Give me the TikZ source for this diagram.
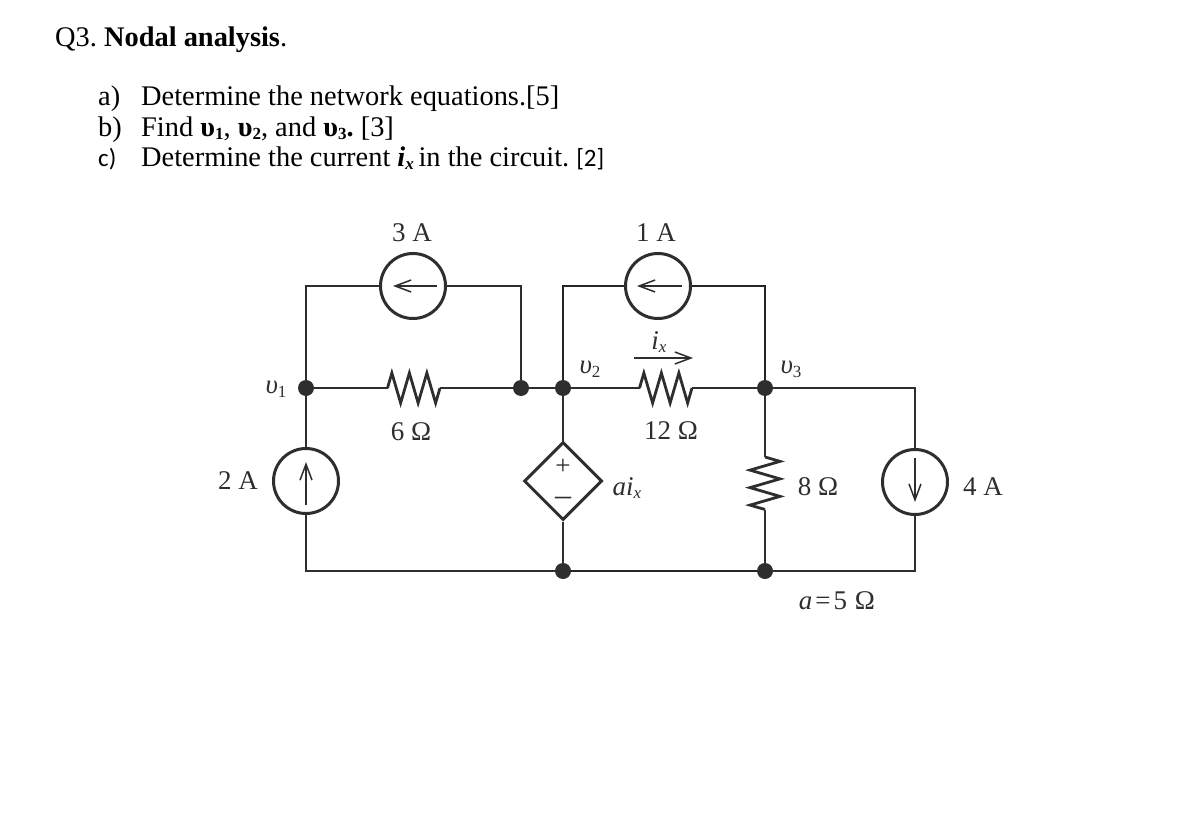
\documentclass[tikz,border=0pt]{standalone}
\usepackage{fontspec}
\setmainfont{Liberation Serif}
\newfontfamily\calibrifont{Carlito}
\usetikzlibrary{shapes,arrows.meta,decorations.pathmorphing}
\definecolor{ink}{HTML}{2E2E2E}
\newcommand{\sbs}[2][17]{\raisebox{-.3ex}{\fontsize{#1}{#1}\selectfont #2}}
\frenchspacing
\tikzstyle{wire} = [draw=ink, line width=1.5pt]
\tikzstyle{heavy} = [draw=ink!80!black, line width=2.2pt]
\tikzstyle{junction} = [circle, fill=ink, inner sep=0pt, minimum size=16pt]
\tikzstyle{isource} = [circle, draw=ink, line width=3pt, fill=white, inner sep=0pt, minimum size=65pt]
\tikzstyle{depsource} = [diamond, draw=ink, line width=3pt, fill=white, inner sep=0pt, minimum width=78pt, minimum height=78pt]
\tikzstyle{arrow} = [draw=ink, line width=1.5pt, -{Straight Barb[length=16pt,width=12pt,line width=1.5pt]}]
\tikzstyle{res} = [draw=ink, line width=2.8pt, line join=miter, decorate, decoration={zigzag, segment length=17.5pt, amplitude=15pt}]
\tikzstyle{lbl} = [inner sep=0pt, text=ink, font=\fontsize{27}{30}\selectfont]
\tikzstyle{question} = [inner sep=0pt, anchor=base west, font=\fontsize{28.4}{30}\selectfont]

\begin{document}
\begin{tikzpicture}[x=1pt, y=-1pt]
	\useasboundingbox (0,0) rectangle (1192,816);

	% the question text
	\node [question] (title) at (55,47) {Q3. \textbf{Nodal analysis}.};
	\node [question] (parta) at (98,106) {a)};
	\node [question] (textdet) at (141,106) {Determine the network equations.[5]};
	\node [question] (partb) at (98,136) {b)};
	\node [question] (textfind) at (141,136) {Find \textbf{υ}\sbs{\textbf{1}}, \textbf{υ}\sbs{\textbf{2}}, and \textbf{υ}\sbs{\textbf{3}}\textbf{.} [3]};
	\node [question, font=\calibrifont\fontsize{25}{27}\selectfont] (partc) at (98,166) {c)};
	\node [question] (textcur) at (141,166) {Determine the current \textbf{\textit{i}}\sbs{\textbf{\textit{x}}}\,in the circuit. {\calibrifont\fontsize{25}{27}\selectfont [2]}};

	% the junctions and corners
	\node [junction] (v1) at (306,388) {};
	\node [junction] (mid) at (521,388) {};
	\node [junction] (v2) at (563,388) {};
	\node [junction] (v3) at (765,388) {};
	\node [junction] (bot2) at (563,571) {};
	\node [junction] (bot3) at (765,571) {};
	\coordinate (tl1) at (306,286);
	\coordinate (tr1) at (521,286);
	\coordinate (tl2) at (563,286);
	\coordinate (tr2) at (765,286);
	\coordinate (tr3) at (915,388);
	\coordinate (bl) at (306,571);
	\coordinate (br) at (915,571);

	% the sources
	\node [isource] (s3) at (413,286) {};
	\node [isource] (s1) at (658,286) {};
	\node [isource] (s2) at (306,481) {};
	\node [isource] (s4) at (915,482) {};
	\node [depsource] (dep) at (563,481) {};

	% the resistors
	\coordinate (r6a) at (387.5,388);
	\coordinate (r6b) at (440,388);
	\coordinate (r12a) at (639.5,388);
	\coordinate (r12b) at (692,388);
	\coordinate (r8a) at (765,457);
	\coordinate (r8b) at (765,509.5);
	\draw [res] (r6a) -- (r6b);
	\draw [res] (r12a) -- (r12b);
	\draw [res] (r8a) -- (r8b);

	% the wires
	\draw [wire] (v1) -- (tl1) -- (s3);
	\draw [wire] (s3) -- (tr1) -- (mid);
	\draw [wire] (v1) -- (r6a);
	\draw [wire] (r6b) -- (mid);
	\draw [wire] (mid) -- (v2);
	\draw [heavy] (v2) -- (tl2) -- (s1);
	\draw [heavy] (s1) -- (tr2) -- (v3);
	\draw [wire] (v2) -- (r12a);
	\draw [wire] (r12b) -- (v3);
	\draw [wire] (v3) -- (tr3) -- (s4);
	\draw [wire] (v1) -- (s2);
	\draw [wire] (s2) -- (bl) -- (bot2);
	\draw [wire] (v2) -- (dep);
	\draw [wire] (dep) -- (bot2);
	\draw [heavy] (bot2) -- (bot3);
	\draw [wire] (v3) -- (r8a);
	\draw [wire] (r8b) -- (bot3);
	\draw [wire] (bot3) -- (br) -- (s4);

	% the arrows of the sources and of the current
	\draw [arrow] ([xshift=24pt]s3.center) -- ([xshift=-20pt]s3.center);
	\draw [arrow] ([xshift=24pt]s1.center) -- ([xshift=-21pt]s1.center);
	\draw [arrow] ([yshift=-24pt]s2.center) -- ([yshift=19pt]s2.center);
	\draw [arrow] ([yshift=24pt]s4.center) -- ([yshift=-20pt]s4.center);
	\coordinate (ixa) at (634,358);
	\coordinate (ixb) at (693,358);
	\draw [arrow] (ixa) -- (ixb);

	% the labels
	\node [lbl] (l3a) at (412,233) {3 A};
	\node [lbl] (l1a) at (656,233) {1 A};
	\node [lbl] (l6) at (411,432) {6 Ω};
	\node [lbl] (l12) at (671,431) {12 Ω};
	\node [lbl] (l8) at (818,487) {8 Ω};
	\node [lbl] (l2a) at (238,481) {2 A};
	\node [lbl] (l4a) at (983,487) {4 A};
	\node [lbl] (lv1) at (276,389) {\textit{υ}\sbs{1}};
	\node [lbl] (lv2) at (590,369) {\textit{υ}\sbs{2}};
	\node [lbl] (lv3) at (791,369) {\textit{υ}\sbs{3}};
	\node [lbl] (lix) at (659,342) {\textit{i}\sbs{\textit{x}}};
	\node [lbl] (lai) at (627,488) {\textit{ai}\sbs{\textit{x}}};
	\node [lbl] (la) at (837,601) {\textit{a}\hspace{3pt}=\hspace{3pt}5 \hspace{1pt}Ω};
	\node [lbl, font=\fontsize{27}{29}\selectfont] (lplus) at (563,467) {+};
	\node [lbl, font=\fontsize{32}{34}\selectfont] (lminus) at (563,501) {--};
\end{tikzpicture}
\end{document}
